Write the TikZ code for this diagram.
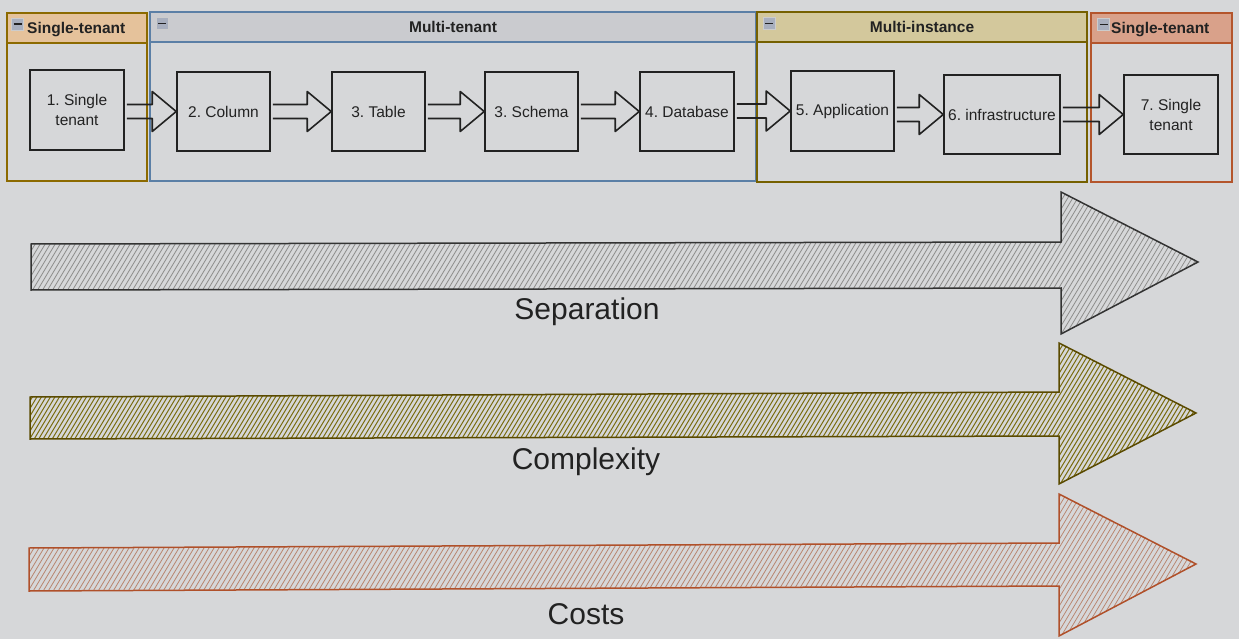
\documentclass[tikz,border=0pt]{standalone}
\usepackage{fontspec}
\setmainfont{Liberation Sans}
\usetikzlibrary{calc}
\definecolor{bg}{HTML}{D6D7D9}
\definecolor{txt}{HTML}{222222}
\definecolor{stOne}{HTML}{8C6A00}
\definecolor{stOneHead}{HTML}{E5C29B}
\definecolor{mtLine}{HTML}{5B7FA6}
\definecolor{mtHead}{HTML}{CACBCF}
\definecolor{miLine}{HTML}{756000}
\definecolor{miHead}{HTML}{D3C89C}
\definecolor{stTwo}{HTML}{B4552C}
\definecolor{stTwoHead}{HTML}{D9A18A}
\definecolor{sepLine}{HTML}{333333}
\definecolor{sepHatch}{HTML}{8E8E8C}
\definecolor{cxLine}{HTML}{5A4A00}
\definecolor{cxHatch}{HTML}{7A6C0E}
\definecolor{coLine}{HTML}{B0502A}
\definecolor{coHatch}{HTML}{B98670}
\definecolor{iconFill}{HTML}{A8AFBE}
\tikzset{
  stepbox/.style={draw=txt, line width=1.6pt, align=center, text=txt,
    font=\fontsize{15.5}{20}\selectfont, inner sep=0pt},
  headtext/.style={font=\bfseries\fontsize{15.5}{17}\selectfont, text=txt, inner sep=0pt},
  blockarr/.style={draw=txt, line width=1.6pt, line join=round},
  minusicon/.style={draw=white!60!gray, line width=0.8pt, fill=iconFill, minimum size=12pt, inner sep=0pt,
    path picture={\draw[txt,line width=1.5pt] ([xshift=-4pt]path picture bounding box.center) -- ([xshift=4pt]path picture bounding box.center);}},
  biglabel/.style={font=\fontsize{30}{32}\selectfont, text=txt, inner sep=0pt},
  bigarrow/.style={line width=1.5pt, line join=miter},
}
\newcommand{\blkarrow}[2]{%
  \draw[blockarr] let \p1=(#1.east), \p2=(#2.west) in
    ($(\x1,\y2)+(2,-7)$) -- ($(\x2,\y2)+(-24,-7)$) -- ($(\x2,\y2)+(-24,-20)$) --
    (\x2,\y2) -- ($(\x2,\y2)+(-24,20)$) -- ($(\x2,\y2)+(-24,7)$) -- ($(\x1,\y2)+(2,7)$);}
% #1 colour, #2 width, #3 second start value, #4 top y, #5 bottom y, #6 path
\newcommand{\hatched}[6]{%
  \begin{scope}
    \clip #6;
    \foreach \hx in {-120,#3,...,1240}
      \draw[#1, line width=#2] (\hx,#5) -- ++({(#5-#4)*0.6},{-(#5-#4)});
  \end{scope}}
\begin{document}
\frenchspacing
\begin{tikzpicture}[x=1pt,y=-1pt]
\fill[bg] (0,0) rectangle (1239,639);
\useasboundingbox (0,0) rectangle (1239,639);

% containers
\fill[stOneHead] (7,13) rectangle (147,43);
\draw[stOne, line width=1.6pt] (7,13) rectangle (147,181);
\draw[stOne, line width=1.2pt] (7,43) -- (147,43);

\fill[mtHead] (150,12) rectangle (756,42);
\draw[mtLine, line width=1.5pt] (150,12) rectangle (756,181);
\draw[mtLine, line width=1.2pt] (150,42) -- (756,42);

\fill[miHead] (757,12) rectangle (1087,42);
\draw[miLine, line width=1.5pt] (757,12) rectangle (1087,182);
\draw[miLine, line width=1.2pt] (757,42) -- (1087,42);

\fill[stTwoHead] (1091,13) rectangle (1232,43);
\draw[stTwo, line width=1.5pt] (1091,13) rectangle (1232,182);
\draw[stTwo, line width=1.2pt] (1091,43) -- (1232,43);

% icons
\node[minusicon] (i1) at (17.5,24) {};
\node[minusicon] (i2) at (162,23.5) {};
\node[minusicon] (i3) at (769,23.5) {};
\node[minusicon] (i4) at (1103.5,24.5) {};

% header titles
\node[headtext, anchor=base west] (h1) at (27,33.5) {Single-tenant};
\node[headtext, anchor=base] (h2) at (453,32.5) {Multi-tenant};
\node[headtext, anchor=base] (h3) at (922,32.5) {Multi-instance};
\node[headtext, anchor=base west] (h4) at (1111,33.5) {Single-tenant};

% step boxes
\node[stepbox, minimum width=94pt, minimum height=80pt] (s1) at (77,110) {1. Single\\tenant};
\node[stepbox, minimum width=93pt, minimum height=79pt] (s2) at (223.5,111.5) {2. Column};
\node[stepbox, minimum width=93pt, minimum height=79pt] (s3) at (378.5,111.5) {3. Table};
\node[stepbox, minimum width=93pt, minimum height=79pt] (s4) at (531.5,111.5) {3. Schema};
\node[stepbox, minimum width=94pt, minimum height=79pt] (s5) at (687,111.5) {4. Database};
\node[stepbox, minimum width=103pt, minimum height=80pt] (s6) at (842.5,111) {5. Application};
\node[stepbox, minimum width=116pt, minimum height=79pt] (s7) at (1002,114.5) {6. infrastructure};
\node[stepbox, minimum width=94pt, minimum height=79pt] (s8) at (1171,114.5) {7. Single\\tenant};

% block arrows
\blkarrow{s1}{s2}
\blkarrow{s2}{s3}
\blkarrow{s3}{s4}
\blkarrow{s4}{s5}
\blkarrow{s5}{s6}
\blkarrow{s6}{s7}
\blkarrow{s7}{s8}

% big arrows
\hatched{sepHatch}{0.8pt}{-115}{190}{336}{(31,244) -- (1061,242) -- (1061,192) -- (1198,262) -- (1061,334) -- (1061,288) -- (31,290) -- cycle}
\draw[bigarrow, draw=sepLine]
  (31,244) -- (1061,242) -- (1061,192) -- (1198,262) -- (1061,334) -- (1061,288) -- (31,290) -- cycle;
\node[biglabel] (lsep) at (587,312) {Separation};

\hatched{cxHatch}{1pt}{-115.5}{341}{486}{(30,397) -- (1059,392) -- (1059,343) -- (1196,413) -- (1059,484) -- (1059,436) -- (30,439) -- cycle}
\draw[bigarrow, draw=cxLine]
  (30,397) -- (1059,392) -- (1059,343) -- (1196,413) -- (1059,484) -- (1059,436) -- (30,439) -- cycle;
\node[biglabel] (lcx) at (586,462) {Complexity};

\hatched{coHatch}{0.8pt}{-115}{492}{638}{(29,548) -- (1059,543) -- (1059,494) -- (1196,564) -- (1059,636) -- (1059,586) -- (29,591) -- cycle}
\draw[bigarrow, draw=coLine]
  (29,548) -- (1059,543) -- (1059,494) -- (1196,564) -- (1059,636) -- (1059,586) -- (29,591) -- cycle;
\node[biglabel] (lco) at (586,614) {Costs};
\end{tikzpicture}
\end{document}
